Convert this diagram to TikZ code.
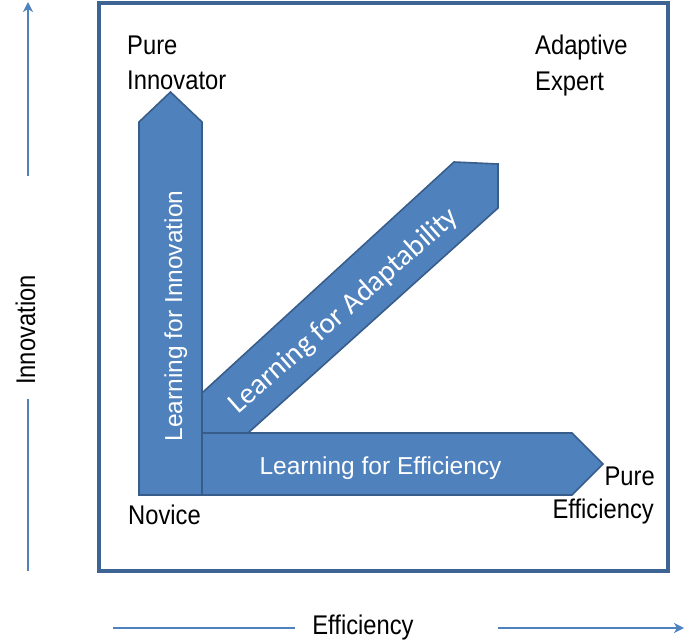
\documentclass[tikz,border=0pt]{standalone}
\usepackage{fontspec}
\setmainfont{Liberation Sans}
\newfontfamily\outerfont[FakeStretch=0.88]{Liberation Sans}
\newfontfamily\calfont{Carlito}
\usetikzlibrary{arrows.meta}
\definecolor{boxc}{RGB}{62,100,148}
\definecolor{axisc}{RGB}{79,129,189}
\definecolor{arrfill}{RGB}{79,129,189}
\definecolor{arrline}{RGB}{56,93,138}
\tikzset{
  outerlbl/.style={inner sep=0pt, font=\outerfont\fontsize{27}{27}\selectfont, text=black},
  innerlbl/.style={inner sep=0pt, font=\fontsize{24.5}{24.5}\selectfont, text=white},
  adaptlbl/.style={inner sep=0pt, font=\calfont\fontsize{29.5}{29.5}\selectfont, text=white},
  bigarrow/.style={fill=arrfill, draw=arrline, line width=1.6pt, line join=miter},
  axisline/.style={draw=axisc, line width=1.8pt},
}
\begin{document}
\begin{tikzpicture}[x=1pt,y=-1pt]
\useasboundingbox (0,0) rectangle (685,642);
% frame
\draw[boxc, line width=3.2pt] (99,3) rectangle (668,571);
% diagonal arrow
\path[bigarrow] (202,393) -- (454,162) -- (498,164) -- (498,208) -- (248,433) -- (202,433) -- cycle;
% vertical arrow
\path[bigarrow] (139,495) -- (139,122) -- (170.5,92) -- (202,122) -- (202,495) -- cycle;
% horizontal arrow
\path[bigarrow] (202,433) -- (572,433) -- (603,464) -- (572,495) -- (202,495) -- cycle;
% inner labels
\node[innerlbl, anchor=base, rotate=90] (linn) at (182,316) {Learning for Innovation};
\node[innerlbl, anchor=base] (leff) at (380.5,474) {Learning for Efficiency};
\node[adaptlbl, anchor=base, rotate=41.5] (lada) at (349,317) {Learning for Adaptability};
% corner labels
\node[outerlbl, anchor=base west] (pia) at (127,55) {Pure};
\node[outerlbl, anchor=base west] (pib) at (127,89) {Innovator};
\node[outerlbl, anchor=base west] (aea) at (535,55) {Adaptive};
\node[outerlbl, anchor=base west] (aeb) at (535,90) {Expert};
\node[outerlbl, anchor=base west] (nov) at (128,524) {Novice};
\node[outerlbl, anchor=base east] (pea) at (655,485) {Pure};
\node[outerlbl, anchor=base east] (peb) at (654,518) {Efficiency};
% axes
\node[outerlbl, anchor=base, rotate=90] (yax) at (35,330) {Innovation};
\node[outerlbl, anchor=base] (xax) at (363,634) {Efficiency};
\coordinate (ylow) at (28,571);
\coordinate (ylowend) at (28,399);
\coordinate (yupst) at (28,176);
\coordinate (ytop) at (28,2);
\coordinate (xleft) at (113,628);
\coordinate (xleftend) at (295,628);
\coordinate (xrightst) at (498,628);
\coordinate (xright) at (684,628);
\draw[axisline] (ylow) -- (ylowend);
\draw[axisline, -{Stealth[length=10pt,width=10pt,inset=3pt]}] (yupst) -- (ytop);
\draw[axisline] (xleft) -- (xleftend);
\draw[axisline, -{Stealth[length=10pt,width=10pt,inset=3pt]}] (xrightst) -- (xright);
\end{tikzpicture}
\end{document}
